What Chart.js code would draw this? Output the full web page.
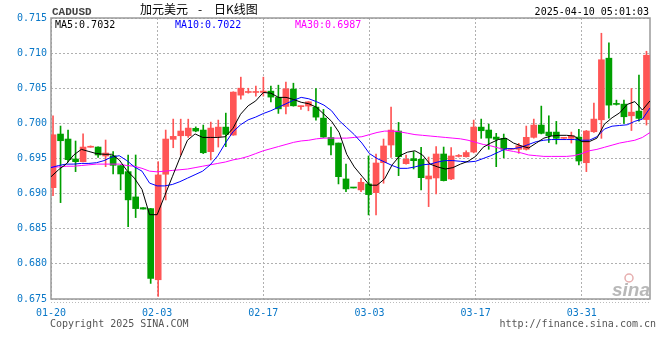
<!DOCTYPE html>
<html>
<head>
<meta charset="utf-8">
<script src="https://cdn.jsdelivr.net/npm/chart.js@4/dist/chart.umd.min.js"></script>
<style>
  html, body { margin: 0; padding: 0; background: #fff; }
  canvas { display: block; }
</style>
</head>
<body>
<canvas id="myChart" width="660" height="360"></canvas>
<script>
// daily bars, 01-20 .. 04-09 (weekend bars included)
var opens = [0.69085,0.69848,0.69777,0.69493,0.69455,0.69660,0.69663,0.69536,0.69540,0.69398,
  0.69313,0.68953,0.68800,0.68787,0.67774,0.69276,0.69773,0.69824,0.69824,0.69929,
  0.69905,0.69597,0.69813,0.69947,0.69834,0.70402,0.70440,0.70440,0.70440,0.70459,
  0.70369,0.70241,0.70487,0.70238,0.70246,0.70232,0.70075,0.69798,0.69720,0.69209,
  0.69090,0.69053,0.69138,0.69014,0.69440,0.69692,0.69891,0.69426,0.69497,0.69489,
  0.69209,0.69223,0.69564,0.69209,0.69530,0.69526,0.69592,0.69947,0.69905,0.69805,
  0.69787,0.69630,0.69631,0.69631,0.69801,0.69976,0.69876,0.69876,0.69787,0.69787,
  0.69805,0.69440,0.69881,0.70051,0.70928,0.70277,0.70274,0.70108,0.70175,0.70054];
var highs = [0.70108,0.69962,0.69905,0.69749,0.69852,0.69680,0.69665,0.69763,0.69597,0.69400,
  0.69550,0.69550,0.68800,0.68790,0.69455,0.69905,0.70061,0.70060,0.70060,0.69950,
  0.69976,0.70018,0.70047,0.70146,0.70450,0.70658,0.70500,0.70530,0.70658,0.70530,
  0.70544,0.70587,0.70572,0.70245,0.70310,0.70497,0.70199,0.69947,0.69720,0.69422,
  0.69090,0.69219,0.69536,0.69564,0.69777,0.70232,0.70014,0.69550,0.69597,0.69659,
  0.69521,0.69668,0.69663,0.69656,0.69557,0.69610,0.70047,0.70061,0.69990,0.69858,
  0.69848,0.69640,0.69716,0.69962,0.70061,0.70246,0.70108,0.70028,0.69790,0.69876,
  0.69915,0.69900,0.70288,0.71283,0.71145,0.70331,0.70331,0.70497,0.70686,0.71027];
var lows = [0.68972,0.68872,0.69450,0.69313,0.69450,0.69660,0.69514,0.69384,0.69280,0.69053,
  0.68531,0.68659,0.68780,0.67722,0.67537,0.68910,0.69653,0.69550,0.69800,0.69880,
  0.69570,0.69479,0.69663,0.69668,0.69830,0.70345,0.70430,0.70388,0.70388,0.70307,
  0.70142,0.70136,0.70245,0.70199,0.70179,0.70047,0.69800,0.69550,0.69138,0.69028,
  0.69080,0.69028,0.68697,0.68697,0.69148,0.69517,0.69256,0.69420,0.69351,0.69053,
  0.68815,0.68996,0.69180,0.69200,0.69521,0.69520,0.69580,0.69787,0.69631,0.69384,
  0.69511,0.69630,0.69574,0.69620,0.69790,0.69850,0.69727,0.69706,0.69787,0.69720,
  0.69408,0.69313,0.69870,0.69787,0.70075,0.70260,0.70000,0.69898,0.70033,0.69976];
var closes = [0.69838,0.69753,0.69483,0.69455,0.69663,0.69670,0.69550,0.69578,0.69403,0.69280,
  0.68911,0.68787,0.68780,0.67793,0.69266,0.69777,0.69815,0.69891,0.69933,0.69891,
  0.69582,0.69933,0.69947,0.69844,0.70445,0.70501,0.70445,0.70447,0.70460,0.70374,
  0.70207,0.70491,0.70250,0.70242,0.70307,0.70089,0.69805,0.69692,0.69241,0.69067,
  0.69080,0.69162,0.68986,0.69436,0.69678,0.69905,0.69526,0.69489,0.69469,0.69227,
  0.69251,0.69564,0.69185,0.69536,0.69541,0.69585,0.69947,0.69895,0.69791,0.69773,
  0.69631,0.69640,0.69682,0.69801,0.69976,0.69858,0.69824,0.69787,0.69790,0.69820,
  0.69464,0.69891,0.70061,0.70906,0.70260,0.70270,0.70094,0.70160,0.70071,0.70970];

// moving averages as shown on the chart
var ma5 = [0.6924,0.6934,0.6942,0.6955,0.6963,0.6960,0.6957,0.6956,0.6956,0.6948,
  0.6933,0.6922,0.6906,0.6870,0.6870,0.6897,0.6924,0.6951,0.6976,0.6985,
  0.6980,0.6980,0.6980,0.6981,0.6993,0.7013,0.7025,0.7032,0.7044,0.7043,
  0.7037,0.7037,0.7034,0.7030,0.7028,0.7023,0.7013,0.7003,0.6987,0.6956,
  0.6938,0.6925,0.6912,0.6912,0.6921,0.6941,0.6954,0.6959,0.6961,0.6955,
  0.6942,0.6938,0.6935,0.6937,0.6942,0.6946,0.6953,0.6966,0.6972,0.6977,
  0.6979,0.6972,0.6968,0.6965,0.6972,0.6979,0.6982,0.6983,0.6983,0.6982,
  0.6974,0.6974,0.6979,0.6999,0.7008,0.7015,0.7027,0.7031,0.7019,0.7032];
var ma10 = [0.6937,0.6940,0.6942,0.6942,0.6943,0.6943,0.6944,0.6947,0.6952,0.6954,
  0.6947,0.6938,0.6932,0.6915,0.6911,0.6911,0.6913,0.6917,0.6922,0.6927,
  0.6932,0.6941,0.6954,0.6972,0.6988,0.6998,0.7005,0.7009,0.7014,0.7018,
  0.7023,0.7028,0.7033,0.7037,0.7035,0.7031,0.7026,0.7018,0.7004,0.6994,
  0.6984,0.6972,0.6957,0.6950,0.6945,0.6940,0.6936,0.6936,0.6938,0.6941,
  0.6942,0.6945,0.6947,0.6947,0.6946,0.6945,0.6946,0.6950,0.6954,0.6959,
  0.6964,0.6964,0.6966,0.6970,0.6974,0.6976,0.6977,0.6977,0.6977,0.6977,
  0.6976,0.6976,0.6981,0.6992,0.6996,0.6997,0.6998,0.7003,0.7006,0.7022];
var ma30 = [0.6938,0.6938,0.6939,0.6939,0.6940,0.6941,0.6942,0.6942,0.6942,0.6942,
  0.6940,0.6939,0.6936,0.6932,0.6931,0.6932,0.6933,0.6934,0.6935,0.6937,
  0.6939,0.6941,0.6943,0.6945,0.6948,0.6950,0.6953,0.6957,0.6961,0.6964,
  0.6967,0.6970,0.6973,0.6975,0.6976,0.6978,0.6979,0.6979,0.6979,0.6979,
  0.6980,0.6981,0.6984,0.6987,0.6989,0.6989,0.6988,0.6986,0.6984,0.6983,
  0.6982,0.6981,0.6980,0.6979,0.6978,0.6976,0.6973,0.6970,0.6968,0.6965,
  0.6962,0.6960,0.6958,0.6955,0.6954,0.6953,0.6953,0.6953,0.6953,0.6954,
  0.6957,0.6961,0.6963,0.6966,0.6969,0.6972,0.6974,0.6976,0.6980,0.6987];

var tickIndex = [0, 14, 28, 42, 56, 70];
var tickLabels = ['01-20', '02-03', '02-17', '03-03', '03-17', '03-31'];

var UP = '#ff5555', DOWN = '#009f00';
var MONO = '"DejaVu Sans Mono", monospace';

var bodies = [], wicks = [], colors = [];
closes.forEach(function (c, i) {
    bodies.push({ x: i, y: [opens[i], c] });
    wicks.push({ x: i, y: [lows[i], highs[i]] });
    colors.push(c >= opens[i] ? UP : DOWN);
});
function line(arr) {
    return arr.map(function (v, i) { return { x: i, y: v }; });
}

// frame, titles, legend row and footer like the sina picture
var decor = {
    id: 'decor',
    beforeDatasetsDraw: function (chart) {
        var ctx = chart.ctx, a = chart.chartArea;
        ctx.save();
        ctx.strokeStyle = '#9a9a9a';
        ctx.lineWidth = 1.5;
        ctx.strokeRect(a.left, a.top, a.right - a.left, a.bottom - a.top);
        ctx.setLineDash([1, 2]);
        ctx.lineWidth = 1;
        ctx.strokeStyle = '#bbbbbb';
        ctx.beginPath();
        ctx.moveTo(a.left, a.bottom + 3.5);
        ctx.lineTo(a.right, a.bottom + 3.5);
        ctx.stroke();
        ctx.restore();
    },
    afterDraw: function (chart) {
        var ctx = chart.ctx, a = chart.chartArea;
        ctx.save();
        ctx.textBaseline = 'alphabetic';
        ctx.font = 'bold 11px "Liberation Mono", monospace';
        ctx.fillStyle = '#444';
        ctx.fillText('CADUSD', 52, 15);
        ctx.font = '12px "Noto Sans CJK SC", sans-serif';
        ctx.fillStyle = '#000';
        ctx.fillText('加元美元', 140, 14);
        ctx.fillText('-', 198, 14);
        ctx.fillText('日K线图', 214, 14);
        ctx.font = '10px ' + MONO;
        ctx.textAlign = 'right';
        ctx.fillText('2025-04-10 05:01:03', 649, 15);
        ctx.textAlign = 'left';
        ctx.fillStyle = '#000';
        ctx.fillText('MA5:' + ma5[ma5.length - 1].toFixed(4), 55, 28);
        ctx.fillStyle = '#0000ff';
        ctx.fillText('MA10:' + ma10[ma10.length - 1].toFixed(4), 175, 28);
        ctx.fillStyle = '#ff00ff';
        ctx.fillText('MA30:' + ma30[ma30.length - 1].toFixed(4), 295, 28);
        ctx.fillStyle = '#555';
        ctx.fillText('Copyright 2025 SINA.COM', 50, 327);
        ctx.textAlign = 'right';
        ctx.fillText('http://finance.sina.com.cn', 656, 327);
        // watermark
        ctx.textAlign = 'left';
        ctx.font = 'italic bold 19px "Liberation Sans", sans-serif';
        ctx.fillStyle = 'rgba(160,160,160,0.75)';
        ctx.fillText('sina', 612, a.bottom - 3);
        ctx.strokeStyle = 'rgba(220,140,140,0.7)';
        ctx.lineWidth = 1.5;
        ctx.beginPath();
        ctx.arc(629, a.bottom - 21, 4, 0, Math.PI * 2);
        ctx.stroke();
        ctx.restore();
    }
};

var ctx = document.getElementById('myChart').getContext('2d');
new Chart(ctx, {
    type: 'bar',
    data: {
        datasets: [
            { type: 'line', label: 'MA5', data: line(ma5), xAxisID: 'x2', borderColor: '#000000', borderWidth: 1, pointRadius: 0, tension: 0, order: 0 },
            { type: 'line', label: 'MA10', data: line(ma10), xAxisID: 'x2', borderColor: '#0000ff', borderWidth: 1, pointRadius: 0, tension: 0, order: 0 },
            { type: 'line', label: 'MA30', data: line(ma30), xAxisID: 'x2', borderColor: '#ff00ff', borderWidth: 1, pointRadius: 0, tension: 0, order: 0 },
            { label: 'body', data: bodies, xAxisID: 'x', backgroundColor: colors, barThickness: 6, minBarLength: 1, grouped: false, order: 1 },
            { label: 'wick', data: wicks, xAxisID: 'x', backgroundColor: colors, barThickness: 1, grouped: false, order: 2 }
        ]
    },
    options: {
        responsive: false,
        animation: false,
        layout: { padding: { top: 18, right: 10, left: 0, bottom: 0 } },
        plugins: { legend: { display: false }, tooltip: { enabled: false } },
        scales: {
            x: { type: 'linear', min: -0.27, max: 79.47, offset: false, display: false, grid: { offset: false } },
            x2: {
                type: 'linear', position: 'bottom', min: 0, max: 79, offset: false,
                afterBuildTicks: function (s) { s.ticks = tickIndex.map(function (v) { return { value: v }; }); },
                afterFit: function (s) { s.height = 61; },
                grid: { offset: false, color: '#b0b0b0', lineWidth: 1, drawTicks: false },
                border: { display: false, dash: [2, 2] },
                ticks: {
                    padding: 8, color: '#0a78c8', font: { family: MONO, size: 10 },
                    autoSkip: false, maxRotation: 0,
                    callback: function (v) { var k = tickIndex.indexOf(v); return k < 0 ? '' : tickLabels[k]; }
                }
            },
            y: {
                min: 0.675, max: 0.715,
                afterFit: function (s) { s.width = 51; },
                grid: { color: '#b0b0b0', lineWidth: 1, drawTicks: false },
                border: { display: false, dash: [2, 2] },
                ticks: {
                    stepSize: 0.005, padding: 4, color: '#0a78c8', font: { family: MONO, size: 10 },
                    callback: function (v) { return v.toFixed(3); }
                }
            }
        }
    },
    plugins: [decor]
});
</script>
</body>
</html>
